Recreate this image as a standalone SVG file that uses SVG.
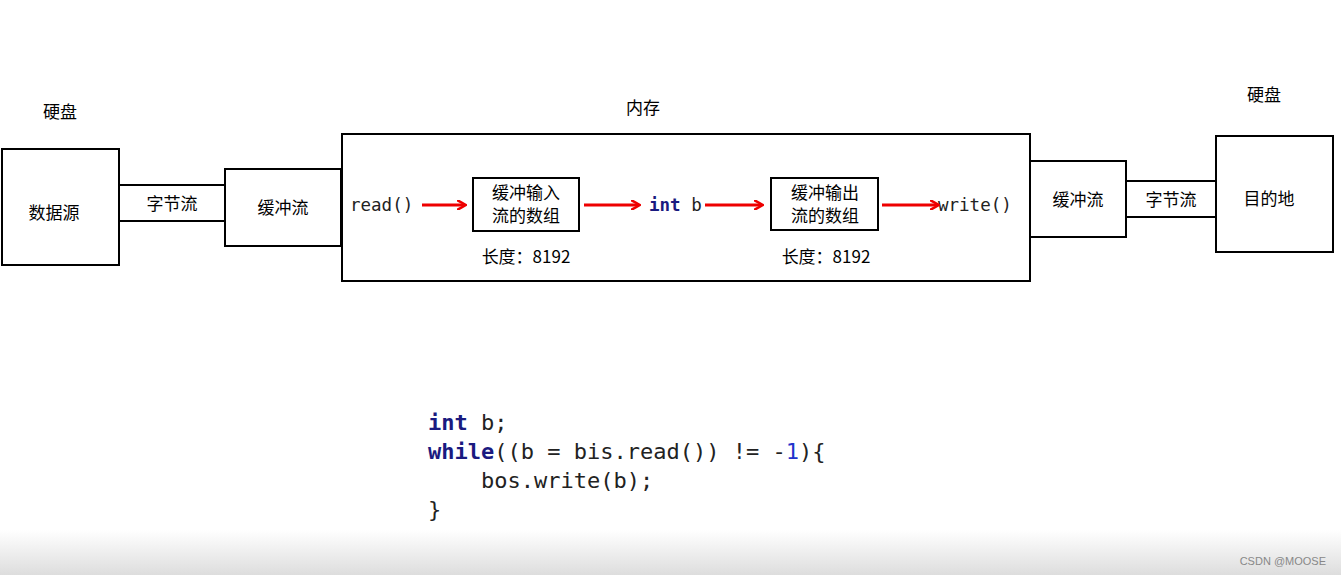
<svg xmlns="http://www.w3.org/2000/svg" width="1341" height="575" viewBox="0 0 1341 575">
<defs>
<style>
.b{fill:#fff;stroke:#000;stroke-width:2}
.t{font-family:"Noto Sans CJK SC","Liberation Sans",sans-serif;font-size:17px;fill:#000;text-anchor:middle}
.m{font-family:"DejaVu Sans Mono","Liberation Mono",monospace;font-size:17.5px;fill:#222}
.c{font-family:"DejaVu Sans Mono","Liberation Mono",monospace;font-size:22px;fill:#222}
.k{fill:#1a1a80;font-weight:bold}
.a{stroke:#e00;stroke-width:3;fill:none;marker-end:url(#ah)}
</style>
<marker id="ah" markerWidth="10" markerHeight="10" refX="8" refY="5" orient="auto" markerUnits="userSpaceOnUse"><path d="M0,0 L9,5 L0,10" fill="none" stroke="#e00" stroke-width="2.5"/></marker>
<linearGradient id="g" x1="0" y1="0" x2="0" y2="1"><stop offset="0" stop-color="#fff"/><stop offset="1" stop-color="#ddd"/></linearGradient>
</defs>
<rect width="1341" height="575" fill="#fff"/>
<rect y="530" width="1341" height="45" fill="url(#g)"/>
<text class="t" x="60" y="118">硬盘</text>
<text class="t" x="643" y="114">内存</text>
<text class="t" x="1264" y="101">硬盘</text>
<g id="src"><rect class="b" x="2" y="149" width="117" height="116"/><text class="t" x="54" y="219">数据源</text></g>
<g id="bs1"><rect class="b" x="119" y="185" width="106" height="36"/><text class="t" x="172" y="210">字节流</text></g>
<g id="buf1"><rect class="b" x="225" y="169" width="116" height="77"/><text class="t" x="283" y="214">缓冲流</text></g>
<g id="mem"><rect class="b" x="342" y="134" width="688" height="147"/>
<text class="m" x="350" y="211">read()</text>
<text class="m" x="649" y="211"><tspan class="k">int</tspan> b</text>
<text class="m" x="938" y="211">write()</text>
<text class="t" x="526" y="263" style="font-size:17px">长度：8192</text>
<text class="t" x="826" y="263" style="font-size:17px">长度：8192</text>
</g>
<g id="inarr"><rect class="b" x="473" y="178" width="106" height="53"/><text class="t" x="526" y="199">缓冲输入</text><text class="t" x="526" y="222">流的数组</text></g>
<g id="outarr"><rect class="b" x="771" y="178" width="107" height="52"/><text class="t" x="825" y="199">缓冲输出</text><text class="t" x="825" y="222">流的数组</text></g>
<g id="buf2"><rect class="b" x="1030" y="161" width="96" height="76"/><text class="t" x="1078" y="206">缓冲流</text></g>
<g id="bs2"><rect class="b" x="1126" y="181" width="90" height="36"/><text class="t" x="1171" y="206">字节流</text></g>
<g id="dst"><rect class="b" x="1216" y="136" width="117" height="116"/><text class="t" x="1269" y="205">目的地</text></g>
<g id="connectors">
<line class="a" x1="422" y1="205" x2="465" y2="205"/>
<line class="a" x1="584" y1="205" x2="639" y2="205"/>
<line class="a" x1="705" y1="205" x2="762" y2="205"/>
<line class="a" x1="882" y1="205" x2="938" y2="205"/>
</g>
<g id="code">
<text class="c" x="428" y="430"><tspan class="k">int</tspan> b;</text>
<text class="c" x="428" y="459"><tspan class="k">while</tspan>((b = bis.read()) != -<tspan fill="#2233cc">1</tspan>){</text>
<text class="c" x="481" y="488">bos.write(b);</text>
<text class="c" x="428" y="517">}</text>
</g>
<text x="1326" y="565" style="font-family:'Liberation Sans',sans-serif;font-size:11px;fill:#888;text-anchor:end">CSDN @MOOSE</text>
</svg>
